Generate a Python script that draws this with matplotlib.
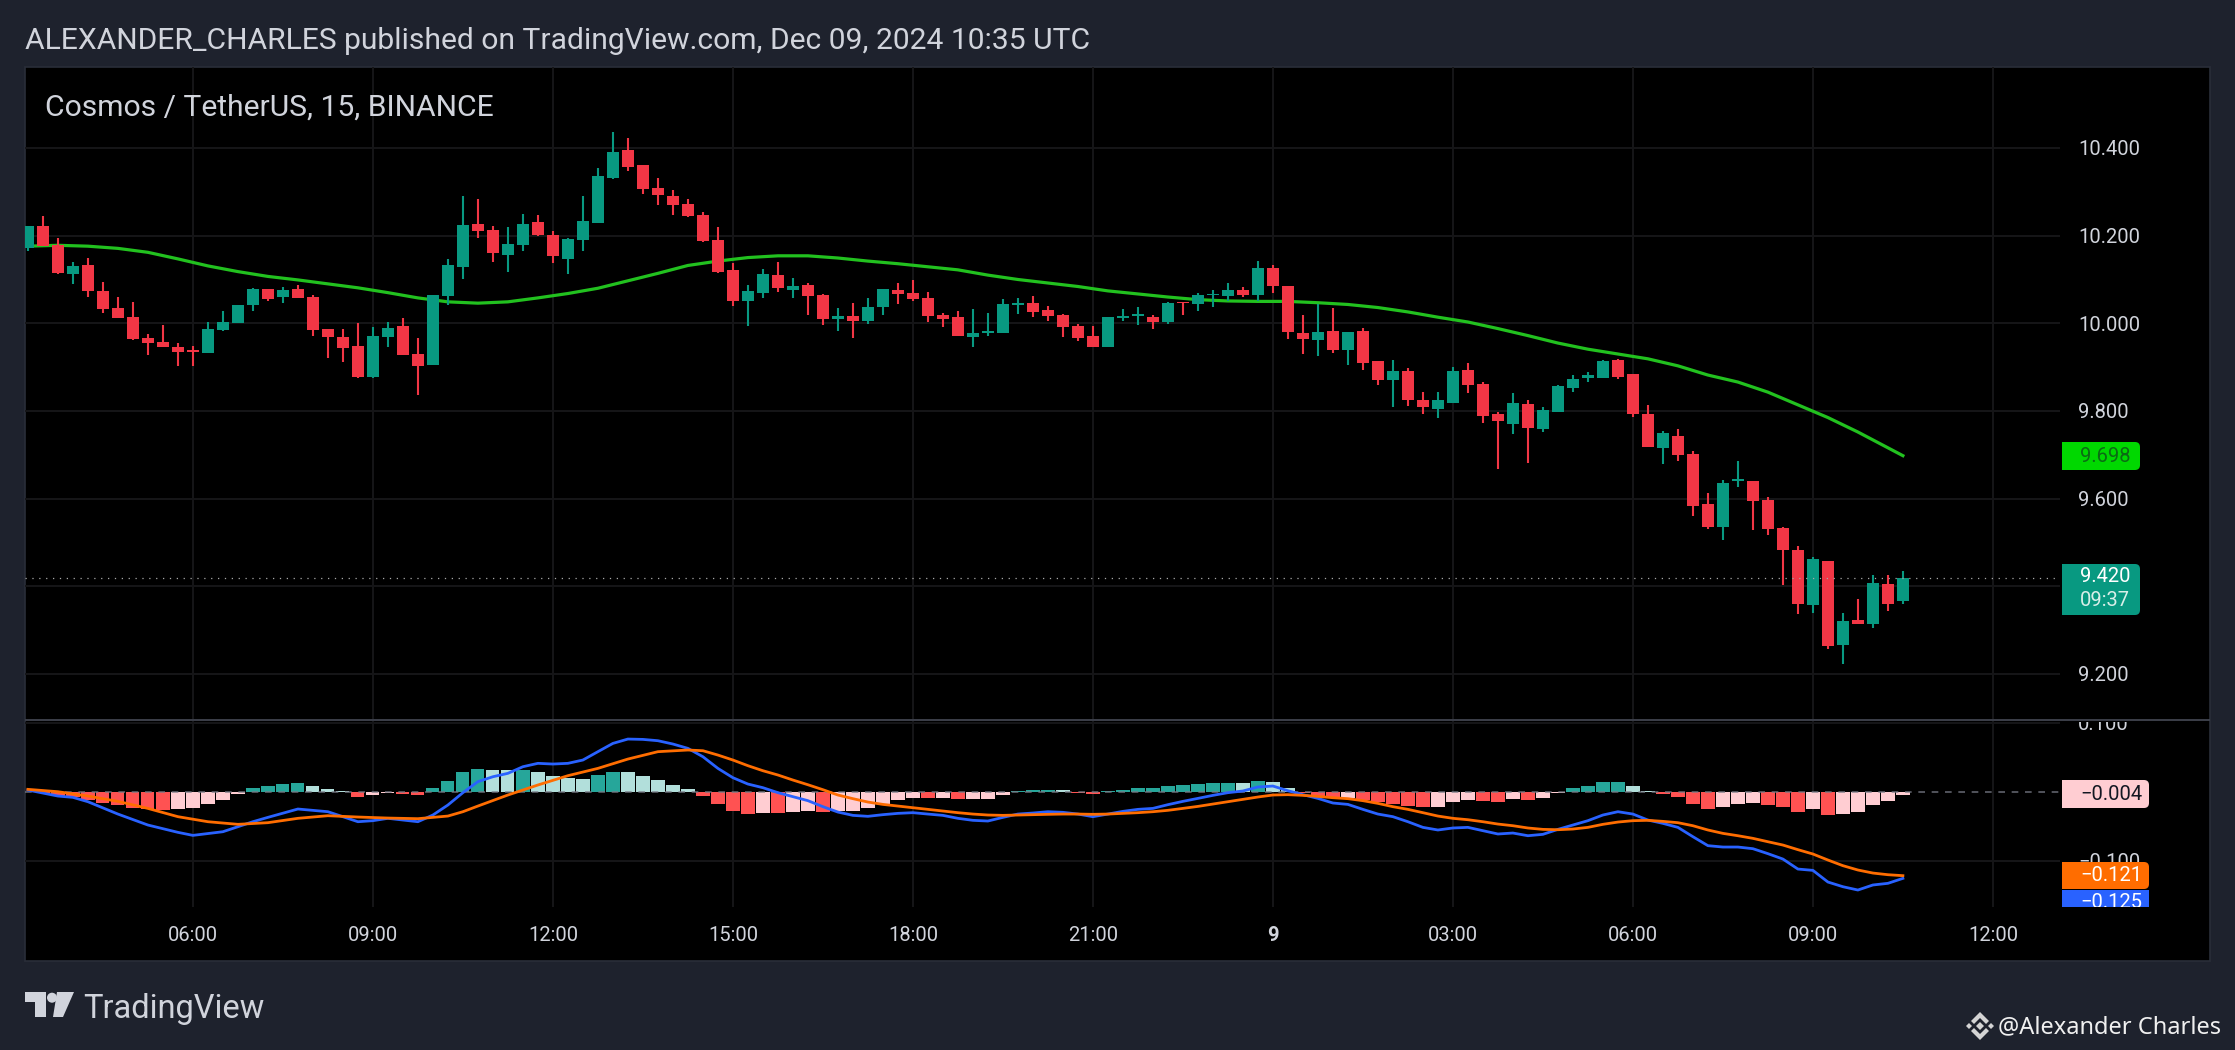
import numpy as np
import matplotlib
matplotlib.use("Agg")
import matplotlib.pyplot as plt
from matplotlib.patches import Rectangle, Polygon, Circle, FancyBboxPatch
from matplotlib.transforms import Affine2D, Bbox

W, H = 2235, 1050

# price candles, 15 min, first bar is 03:15
opens = [10.171,10.222,10.179,10.113,10.134,10.074,10.035,10.014,9.967,9.957,
         9.946,9.939,9.932,9.985,10.001,10.042,10.078,10.060,10.078,10.060,
         9.987,9.969,9.948,9.878,9.969,9.994,9.930,9.905,10.062,10.129,
         10.227,10.213,10.156,10.179,10.231,10.202,10.147,10.190,10.229,10.332,
         10.395,10.361,10.309,10.290,10.272,10.247,10.190,10.122,10.051,10.069,
         10.110,10.076,10.087,10.065,10.010,10.017,10.005,10.037,10.076,10.069,
         10.058,10.019,10.014,9.969,9.978,9.978,10.042,10.046,10.030,10.019,
         9.994,9.971,9.946,10.013,10.017,10.015,10.004,10.049,10.043,10.064,
         10.063,10.077,10.065,10.127,10.086,9.979,9.963,9.983,9.938,9.983,
         9.913,9.871,9.892,9.826,9.805,9.819,9.894,9.862,9.794,9.771,
         9.817,9.760,9.798,9.853,9.876,9.876,9.917,9.885,9.792,9.715,
         9.742,9.701,9.587,9.535,9.640,9.640,9.596,9.532,9.482,9.357,
         9.457,9.265,9.322,9.313,9.405,9.366]
closes = [10.222,10.176,10.114,10.131,10.073,10.033,10.012,9.964,9.955,9.946,
          9.935,9.935,9.987,10.003,10.042,10.078,10.056,10.076,10.058,9.985,
          9.969,9.944,9.878,9.971,9.989,9.928,9.903,10.065,10.133,10.224,
          10.211,10.160,10.181,10.227,10.202,10.154,10.192,10.233,10.336,10.391,
          10.357,10.306,10.293,10.270,10.245,10.188,10.117,10.051,10.074,10.113,
          10.081,10.085,10.062,10.010,10.017,10.005,10.037,10.078,10.067,10.056,
          10.017,10.010,9.971,9.978,9.983,10.044,10.046,10.026,10.017,9.992,
          9.967,9.946,10.014,10.017,10.022,10.004,10.047,10.046,10.065,10.068,
          10.075,10.065,10.127,10.086,9.981,9.965,9.981,9.938,9.981,9.910,
          9.871,9.892,9.824,9.808,9.824,9.892,9.860,9.789,9.776,9.819,
          9.762,9.803,9.856,9.874,9.881,9.915,9.878,9.792,9.717,9.749,
          9.699,9.583,9.535,9.635,9.644,9.594,9.530,9.482,9.359,9.462,
          9.263,9.320,9.313,9.407,9.359,9.418]
highs = [10.222,10.245,10.195,10.140,10.150,10.094,10.060,10.049,9.975,9.997,
         9.954,9.948,10.003,10.028,10.042,10.080,10.078,10.083,10.087,10.065,
         9.987,9.987,10.001,9.992,10.003,10.012,9.967,10.065,10.147,10.290,
         10.284,10.222,10.220,10.249,10.247,10.211,10.195,10.290,10.354,10.437,
         10.423,10.361,10.332,10.304,10.284,10.254,10.220,10.138,10.087,10.124,
         10.140,10.103,10.092,10.067,10.035,10.046,10.058,10.078,10.092,10.099,
         10.071,10.024,10.028,10.033,10.024,10.056,10.058,10.062,10.040,10.021,
         9.998,9.994,10.014,10.033,10.038,10.020,10.049,10.049,10.070,10.075,
         10.093,10.084,10.143,10.134,10.086,10.020,10.045,10.036,9.981,9.989,
         9.913,9.917,9.897,9.844,9.844,9.901,9.910,9.867,9.798,9.840,
         9.826,9.810,9.860,9.883,9.890,9.917,9.919,9.885,9.813,9.754,
         9.758,9.708,9.612,9.642,9.685,9.640,9.603,9.535,9.491,9.466,
         9.457,9.338,9.370,9.425,9.425,9.434]
lows = [10.166,10.176,10.113,10.090,10.061,10.024,10.012,9.963,9.928,9.946,
        9.903,9.903,9.932,9.983,10.001,10.028,10.052,10.046,10.058,9.971,
        9.921,9.912,9.875,9.875,9.946,9.928,9.836,9.905,10.042,10.101,
        10.195,10.140,10.117,10.165,10.199,10.138,10.113,10.165,10.229,10.329,
        10.348,10.295,10.270,10.247,10.243,10.186,10.115,10.040,9.994,10.058,
        10.071,10.058,10.019,9.996,9.983,9.967,9.998,10.019,10.044,10.051,
        10.003,9.992,9.971,9.946,9.971,9.978,10.021,10.014,10.005,9.969,
        9.960,9.946,9.946,10.006,9.997,9.988,9.999,10.020,10.029,10.038,
        10.052,10.061,10.052,10.070,9.965,9.931,9.926,9.933,9.906,9.894,
        9.860,9.810,9.812,9.794,9.785,9.819,9.840,9.773,9.668,9.748,
        9.682,9.751,9.798,9.844,9.867,9.876,9.874,9.787,9.717,9.678,
        9.685,9.560,9.530,9.505,9.626,9.528,9.516,9.402,9.336,9.338,
        9.256,9.222,9.313,9.306,9.343,9.359]

# moving average, read every second bar
ma_idx = list(range(0, 125, 2)) + [125]
ma_vals = [10.176,10.178,10.176,10.171,10.162,10.147,10.131,10.118,10.107,10.099,
           10.090,10.081,10.070,10.058,10.049,10.046,10.049,10.058,10.068,10.080,
           10.097,10.114,10.132,10.142,10.150,10.154,10.154,10.149,10.142,10.136,
           10.129,10.122,10.110,10.100,10.092,10.084,10.074,10.067,10.060,10.054,
           10.051,10.050,10.050,10.047,10.043,10.036,10.026,10.014,10.003,9.988,
           9.972,9.955,9.941,9.930,9.919,9.903,9.882,9.866,9.843,9.814,
           9.785,9.752,9.716,9.698]

# MACD pane
hist = [-.0010,-.0020,-.0063,-.0082,-.0121,-.0159,-.0193,-.0232,-.0246,-.0266,
        -.0251,-.0237,-.0179,-.0121,-.0034,.0053,.0082,.0111,.0126,.0082,
        .0039,.0010,-.0077,-.0048,-.0014,-.0034,-.0048,.0053,.0155,.0285,
        .0328,.0314,.0314,.0314,.0285,.0227,.0198,.0184,.0242,.0285,
        .0285,.0227,.0169,.0097,.0039,-.0063,-.0179,-.0280,-.0324,-.0309,
        -.0309,-.0295,-.0280,-.0295,-.0280,-.0280,-.0237,-.0179,-.0121,-.0092,
        -.0092,-.0092,-.0106,-.0106,-.0106,-.0048,.0010,.0024,.0024,.0024,
        -.0014,-.0034,.0010,.0024,.0053,.0053,.0082,.0097,.0111,.0126,
        .0126,.0126,.0155,.0140,.0053,-.0014,-.0063,-.0092,-.0092,-.0121,
        -.0150,-.0179,-.0208,-.0222,-.0222,-.0150,-.0121,-.0135,-.0150,-.0106,
        -.0121,-.0092,-.0014,.0053,.0082,.0140,.0140,.0082,.0010,-.0034,
        -.0077,-.0179,-.0251,-.0222,-.0179,-.0164,-.0193,-.0222,-.0295,-.0251,
        -.0338,-.0324,-.0295,-.0193,-.0135,-.0048]
hist_codes = ("RRRRRRRRRR" "rrrrrGGGGg" "ggRrrRRGGG" "GggGggggGG" "gggggRRRRr"
              "RrrRrrrrrr" "RrRrrrGGGg" "RRGGGGGGGG" "GgGggRRRrR" "RRRRrrrRRr"
              "RrrGGGGggR" "RRRrrrRRRr" "Rrrrrr")

macd_idx = [0,2,3,4,6,8,10,11,13,15,16,18,20,22,23,24] + list(range(26, 126))
macd_vals = [.0024,-.0063,-.0082,-.0145,-.0324,-.0483,-.0589,-.0633,-.0580,-.0435,
             -.0372,-.0251,-.0290,-.0435,-.0420,-.0386,-.0435,-.0338,-.0193,-.0014,
             .0145,.0217,.0266,.0362,.0411,.0401,.0411,.0459,.0580,.0700,
             .0763,.0758,.0739,.0691,.0628,.0507,.0338,.0203,.0111,.0058,
             -.0014,-.0072,-.0130,-.0217,-.0295,-.0343,-.0357,-.0333,-.0314,-.0304,
             -.0324,-.0343,-.0386,-.0415,-.0425,-.0372,-.0324,-.0309,-.0290,-.0299,
             -.0324,-.0362,-.0324,-.0285,-.0256,-.0242,-.0188,-.0140,-.0097,-.0053,
             -.0014,.0010,.0068,.0082,.0014,-.0043,-.0097,-.0164,-.0184,-.0256,
             -.0324,-.0362,-.0435,-.0517,-.0555,-.0526,-.0517,-.0565,-.0613,-.0599,
             -.0638,-.0618,-.0546,-.0483,-.0420,-.0338,-.0290,-.0324,-.0411,-.0459,
             -.0517,-.0652,-.0782,-.0802,-.0802,-.0826,-.0898,-.0976,-.1121,-.1140,
             -.1309,-.1377,-.1425,-.1352,-.1328,-.1256]

signal_idx = [0,2,4,6,8,10,12,14,16,18,20,22,24,26,28,29,30,32,34,36,38,40,42,44] + list(range(45, 126))
signal_vals = [.0034,0.0,-.0063,-.0140,-.0242,-.0362,-.0435,-.0473,-.0449,-.0386,
               -.0348,-.0367,-.0382,-.0391,-.0353,-.0290,-.0208,-.0048,.0097,.0232,
               .0338,.0473,.0580,.0604,.0594,.0531,.0459,.0377,.0304,.0242,
               .0169,.0101,.0029,-.0048,-.0101,-.0150,-.0184,-.0208,-.0232,-.0256,
               -.0280,-.0304,-.0324,-.0338,-.0343,-.0338,-.0333,-.0328,-.0324,-.0324,
               -.0328,-.0324,-.0314,-.0304,-.0290,-.0270,-.0242,-.0213,-.0179,-.0145,
               -.0111,-.0077,-.0048,-.0043,-.0053,-.0068,-.0087,-.0101,-.0130,-.0169,
               -.0217,-.0256,-.0304,-.0353,-.0386,-.0406,-.0435,-.0469,-.0493,-.0526,
               -.0546,-.0551,-.0541,-.0517,-.0473,-.0440,-.0420,-.0415,-.0430,-.0449,
               -.0493,-.0555,-.0604,-.0638,-.0676,-.0725,-.0773,-.0840,-.0903,-.0990,
               -.1072,-.1135,-.1179,-.1203,-.1217]

time_ticks = [11, 23, 35, 47, 59, 71, 83, 95, 107, 119, 131]
time_labels = ["06:00", "09:00", "12:00", "15:00", "18:00", "21:00", "9",
               "03:00", "06:00", "09:00", "12:00"]
price_ticks = [9.2, 9.4, 9.6, 9.8, 10.0, 10.2, 10.4]
price_labels = ["9.200", "9.400", "9.600", "9.800", "10.000", "10.200", "10.400"]
macd_ticks = [-0.1, 0.1]
macd_labels = ["\u22120.100", "0.100"]
last_price = 9.418

BG = "#1e222d"
TXT = "#d1d4dc"
GRID = "#161618"
UP = "#089981"
DOWN = "#f23645"
HIST_COLORS = {"G": "#26a69a", "g": "#b2dfdb", "r": "#ffcdd2", "R": "#ff5252"}

plt.rcParams["font.family"] = ["Roboto", "DejaVu Sans"]

fig = plt.figure(figsize=(W / 100, H / 100), dpi=100, facecolor=BG)
# pixel coordinates, origin top left
px = Affine2D().scale(1, -1).translate(0, H)


def axes_px(x0, y0, x1, y1):
    return fig.add_axes([x0 / W, 1 - y1 / H, (x1 - x0) / W, (y1 - y0) / H], facecolor="none")


fig.add_artist(Rectangle((25, 67), 2185, 894, transform=px, fc="black", ec="#2a2e39", lw=1.2, zorder=-1))

xlim = ((25 - 27.9) / 15, (2060 - 27.9) / 15)

# price pane
ax = axes_px(25, 67, 2060, 720)
ax.set_xlim(*xlim)
ax.set_ylim(10.4 - (720 - 148) / 438.3, 10.4 + (148 - 67) / 438.3)
ax.set_xticks(time_ticks)
ax.set_yticks(price_ticks)
ax.set_yticklabels(price_labels)
ax.yaxis.tick_right()
ax.tick_params(axis="x", length=0, labelbottom=False)
ax.tick_params(axis="y", length=0, pad=13, labelsize=14.5, labelcolor=TXT)
ax.grid(True, color=GRID, lw=1.4)
ax.set_axisbelow(True)
for s in ax.spines.values():
    s.set_visible(False)

x = np.arange(len(opens))
o, c, hi, lo = map(np.array, (opens, closes, highs, lows))
colors = np.where(c >= o, UP, DOWN)
ax.plot(ma_idx, ma_vals, color="#22c11f", lw=2.3, zorder=2)
ax.vlines(x, lo, hi, colors=colors, lw=1.5, zorder=3)
ax.bar(x, np.abs(c - o), bottom=np.minimum(o, c), width=0.76, color=colors, lw=0, zorder=3)
ax.axhline(last_price, color="#a8a8a8", lw=0.9, ls=(0, (1, 4.5)), zorder=4)

# MACD pane
ax2 = axes_px(25, 720, 2060, 907)
ax2.set_xlim(*xlim)
ax2.set_ylim((791.7 - 907) / 690, (791.7 - 720) / 690)
ax2.set_xticks(time_ticks)
ax2.set_xticklabels(time_labels)
ax2.set_yticks(macd_ticks)
ax2.set_yticklabels(macd_labels)
ax2.yaxis.tick_right()
ax2.tick_params(axis="x", length=0, pad=14, labelsize=14.5, labelcolor=TXT)
ax2.tick_params(axis="y", length=0, pad=13, labelsize=14.5, labelcolor=TXT)
ax2.grid(True, color=GRID, lw=1.4)
ax2.set_axisbelow(True)
for s in ax2.spines.values():
    s.set_visible(False)
ax2.get_xticklabels()[6].set_fontweight("bold")
for lab in ax2.get_yticklabels():
    lab.set_clip_on(True)
    lab.set_clip_box(Bbox.from_extents(25, H - 907, 2210, H - 722))

ax2.bar(x, hist, width=0.88, color=[HIST_COLORS[k] for k in hist_codes], lw=0, zorder=2)
ax2.axhline(0, color="#787b86", lw=1.2, ls=(0, (4, 4)), alpha=0.8, zorder=2.5)
ax2.plot(macd_idx, macd_vals, color="#2962ff", lw=2.0, zorder=3)
ax2.plot(signal_idx, signal_vals, color="#ff6d00", lw=2.0, zorder=4)

# pane separator
fig.add_artist(Rectangle((25, 719), 2185, 2.4, transform=px, fc="#3a3d47", lw=0, zorder=2))


def badge(x0, x1, y0, y1, color, rounded=True):
    if rounded:
        fig.add_artist(FancyBboxPatch((x0, y0), x1 - x0, y1 - y0, boxstyle="round,pad=0,rounding_size=5",
                                      transform=px, fc=color, lw=0, zorder=5))
    fig.add_artist(Rectangle((x0, y0), 8 if rounded else x1 - x0, y1 - y0, transform=px, fc=color, lw=0, zorder=5))


def label(xp, yp, s, color, **kw):
    return fig.text(xp, yp, s, color=color, transform=px, fontsize=14.5, va="center", ha="left", zorder=6, **kw)


badge(2062, 2140, 442, 470, "#00d800")
label(2080, 456, "9.698", "#0b6b14")
badge(2062, 2140, 564, 615, UP)
label(2080, 577, "9.420", "white")
label(2080, 601, "09:37", "#d8efe9")
badge(2062, 2149, 780, 808, "#ffcdd2")
label(2080, 794, "\u22120.004", "#131722")
badge(2062, 2149, 862, 889, "#ff6d00")
label(2080, 875.5, "\u22120.121", "white")
badge(2062, 2149, 890, 907, "#2962ff", rounded=False)
t = label(2080, 903, "\u22120.125", "white")
t.set_clip_on(True)
t.set_clip_box(Bbox.from_extents(25, H - 907, 2210, H - 880))

# header and footer texts
fig.text(25, 41, "ALEXANDER_CHARLES published on TradingView.com, Dec 09, 2024 10:35 UTC",
         color=TXT, transform=px, fontsize=21.6, va="center", ha="left")
fig.text(45, 108, "Cosmos / TetherUS, 15, BINANCE", color=TXT, transform=px, fontsize=21.6, va="center", ha="left")
fig.text(83, 1009, "TradingView", color=TXT, transform=px, fontsize=23.5, va="center", ha="left")
fig.text(1998, 1027, "@Alexander Charles", color="#f0f0f0", transform=px, fontsize=17,
         va="center", ha="left", family=["Noto Sans", "DejaVu Sans"])

# TradingView logo
LOGO = "#d1d4dc"
fig.add_artist(Polygon([(25, 992), (46, 992), (46, 1017), (35, 1017), (35, 1002), (25, 1002)], transform=px, fc=LOGO, lw=0))
fig.add_artist(Circle((52, 997.7), 5, transform=px, fc=LOGO, lw=0))
fig.add_artist(Polygon([(57, 992), (74, 992), (63, 1017), (53, 1017)], transform=px, fc=LOGO, lw=0))

# exchange icon
ICON = "#d4d4d4"
cx, cy = 1980, 1026
fig.add_artist(Polygon([(cx, cy - 4), (cx + 4, cy), (cx, cy + 4), (cx - 4, cy)], transform=px, fc=ICON, lw=0))
fig.add_artist(Polygon([(cx - 14, cy), (cx - 11, cy - 3), (cx - 8, cy), (cx - 11, cy + 3)], transform=px, fc=ICON, lw=0))
fig.add_artist(Polygon([(cx + 14, cy), (cx + 11, cy - 3), (cx + 8, cy), (cx + 11, cy + 3)], transform=px, fc=ICON, lw=0))
fig.add_artist(Polygon([(cx, cy - 14), (cx + 9, cy - 5), (cx + 6, cy - 2), (cx, cy - 8), (cx - 6, cy - 2), (cx - 9, cy - 5)], transform=px, fc=ICON, lw=0))
fig.add_artist(Polygon([(cx, cy + 14), (cx + 9, cy + 5), (cx + 6, cy + 2), (cx, cy + 8), (cx - 6, cy + 2), (cx - 9, cy + 5)], transform=px, fc=ICON, lw=0))

fig.savefig("out.png", dpi=100, facecolor=BG)
